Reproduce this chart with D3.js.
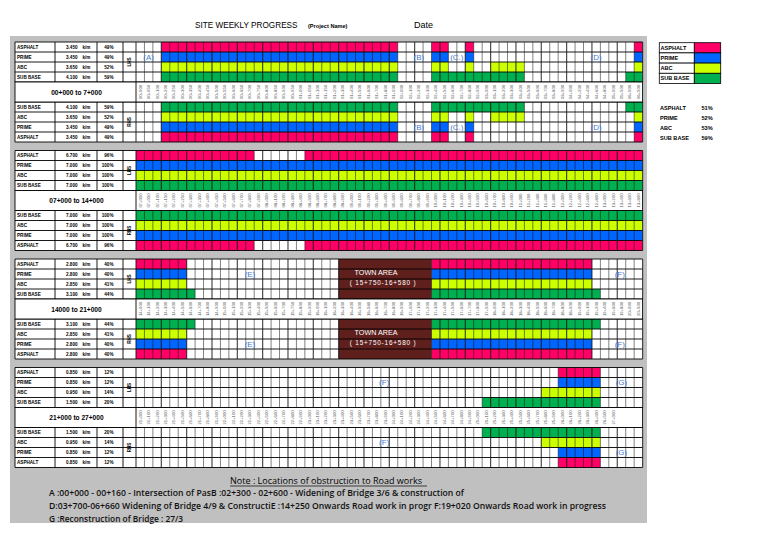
<!DOCTYPE html>
<html><head><meta charset="utf-8">
<script src="https://cdn.jsdelivr.net/npm/d3@7"></script>
<style>body{margin:0;background:#fff}svg{display:block}</style>
</head><body>
<script>
// ---------- DATA ----------
const layers = ["ASPHALT", "PRIME", "ABC", "SUB BASE"];
const layerColors = ["#ff0066", "#0066ff", "#ccff00", "#00b050"];
const sectionRanges = ["00+000 to 7+000", "07+000 to 14+000", "14000 to 21+000", "21+000 to 27+000"];
// length done (km) per section, order: ASPHALT, PRIME, ABC, SUB BASE
const kmDone = [
  ["3.450", "3.450", "3.650", "4.100"],
  ["6.700", "7.000", "7.000", "7.000"],
  ["2.800", "2.800", "2.850", "3.100"],
  ["0.850", "0.850", "0.950", "1.500"]
];
const pctDone = [
  ["49%", "49%", "52%", "59%"],
  ["96%", "100%", "100%", "100%"],
  ["40%", "40%", "41%", "44%"],
  ["12%", "12%", "14%", "20%"]
];
// completed column runs [from, to] per section and layer (same on LHS and RHS)
const doneRuns1 = [
  [[3, 30], [35, 36], [39, 39], [59, 59]],
  [[3, 30], [35, 36], [39, 39], [59, 59]],
  [[3, 30], [35, 36], [39, 39], [42, 45], [59, 59]],
  [[3, 30], [35, 45], [58, 59]]
];
const doneRuns2 = [
  [[0, 13], [20, 59]],
  [[0, 59]],
  [[0, 59]],
  [[0, 59]]
];
const doneRuns3 = [
  [[0, 5], [35, 53]],
  [[0, 5], [35, 53]],
  [[0, 5], [35, 53]],
  [[0, 6], [35, 54]]
];
const doneRuns4 = [
  [[50, 54]],
  [[50, 54]],
  [[48, 54]],
  [[41, 54]]
];
const townArea = {section: 2, from: 24, to: 34, line1: "TOWN AREA", line2: "( 15+750-16+580 )"};
// obstruction markers: section, side, layer, column position, text
const markers = [
  [0, "L", 1, 1.5, "(A)"], [0, "L", 1, 33.5, "(B)"], [0, "L", 1, 38, "(C.)"], [0, "L", 1, 54.5, "(D)"],
  [0, "R", 1, 33.5, "(B)"], [0, "R", 1, 38, "(C.)"], [0, "R", 1, 54.5, "(D)"],
  [2, "L", 1, 13.5, "(E)"], [2, "L", 1, 57.3, "(F)"], [2, "R", 1, 13.5, "(E)"], [2, "R", 1, 57.3, "(F)"],
  [3, "L", 1, 29.4, "(F)"], [3, "L", 1, 57.5, "(G)"], [3, "R", 2, 29.4, "(F)"], [3, "R", 1, 57.5, "(G)"]
];
// chainage tick labels (one per column)
const ticks1 = ["00+000","00+050","00+100","00+200","00+250","00+300","00+350","00+400","00+450","00+500","00+550","00+600","00+650","00+700","00+750","00+800","00+850","00+900","00+950","01+000","01+050","01+100","01+150","01+200","01+300","01+400","01+500","01+600","01+700","01+800","01+900","02+000","02+100","02+200","02+300","02+400","02+500","02+600","02+700","02+800","02+900","03+000","03+100","03+200","03+300","03+400","03+500","03+600","03+700","03+800","03+900","04+000","04+200","04+400","04+600","04+800","05+000","05+500","06+000","06+500"];
const ticks2 = ["07+000","07+050","07+100","07+150","07+200","07+250","07+300","07+350","07+400","07+450","07+500","07+600","07+700","07+800","07+900","08+000","08+100","08+200","08+300","08+400","08+500","08+600","08+700","08+800","08+900","09+000","09+100","09+200","09+300","09+400","09+500","09+600","09+700","09+800","09+900","10+000","10+100","10+200","10+300","10+400","10+500","10+600","10+700","10+800","10+900","11+000","11+200","11+400","11+600","11+800","12+000","12+200","12+400","12+600","12+800","13+000","13+200","13+400","13+600","13+800"];
const ticks3 = ["14+000","14+100","14+200","14+300","14+400","14+500","14+600","14+700","14+800","14+900","15+000","15+100","15+200","15+300","15+400","15+500","15+600","15+700","15+750","15+800","15+900","16+000","16+100","16+200","16+300","16+400","16+500","16+580","16+600","16+700","16+800","16+900","17+000","17+100","17+200","17+300","17+400","17+500","17+600","17+700","17+800","17+900","18+000","18+100","18+200","18+300","18+400","18+500","18+600","18+700","18+800","18+900","19+000","19+100","19+200","19+400","19+600","19+800","20+000","20+500"];
const ticks4 = ["21+000","21+100","21+200","21+300","21+400","21+500","21+600","21+700","21+800","21+900","22+000","22+100","22+200","22+300","22+400","22+500","22+600","22+700","22+800","22+900","23+000","23+100","23+200","23+300","23+400","23+500","23+600","23+700","23+800","23+900","24+000","24+100","24+200","24+300","24+400","24+500","24+600","24+700","24+800","24+900","25+000","25+100","25+200","25+300","25+400","25+500","25+600","25+700","25+800","25+900","26+000","26+100","26+200","26+300","26+400","26+500","27+000"];
const overallLabels = ["ASPHALT", "PRIME", "ABC", "SUB BASE"];
const overallPct = ["51%", "52%", "53%", "59%"];
const noteTitle = "Note : Locations of obstruction to Road works ";
const noteLines = [
  "A :00+000 - 00+160 - Intersection of PasB :02+300 - 02+600 - Widening of Bridge 3/6 & construction of",
  "D:03+700-06+660 Widening of Bridge 4/9 & ConstructiE :14+250 Onwards  Road work in progr F:19+020 Onwards  Road work in progress",
  "G :Reconstruction of Bridge : 27/3"
];

const doneRuns = [doneRuns1, doneRuns2, doneRuns3, doneRuns4];
const tickSets = [ticks1, ticks2, ticks3, ticks4];
const NCOL = 60;

// ---------- LAYOUT ----------
const svg = d3.select("body").append("svg").attr("width", 768).attr("height", 543)
  .style("font-family", "'Liberation Sans', Arial, sans-serif");

const x = d3.scaleLinear().domain([0, NCOL]).range([136, 642.6]);
const secTop = d3.scaleLinear().domain([0, 1]).range([42, 150.5]);
const ROW = 10, LAB = 20;
const colName = 15, colVal = 55, colPct = 97, colSide = 123;

svg.append("rect").attr("x", 10).attr("y", 36).attr("width", 637).attr("height", 487).attr("fill", "#c0c0c0");

// title
svg.append("text").attr("x", 195).attr("y", 28).attr("font-size", 8.2).text("SITE WEEKLY PROGRESS");
svg.append("text").attr("x", 308).attr("y", 28).attr("font-size", 5.6).attr("font-weight", "bold").text("(Project Name)");
svg.append("text").attr("x", 414).attr("y", 28).attr("font-size", 9).text("Date");

function rowTop(s, side, k) {
  const t = secTop(s);
  return side === "L" ? t + k * ROW : t + 4 * ROW + LAB + k * ROW;
}
function layerAt(side, k) { return side === "L" ? k : 3 - k; }
function rowOfLayer(side, li) { return side === "L" ? li : 3 - li; }

for (let s = 0; s < 4; s++) {
  const g = svg.append("g");
  const t = secTop(s);
  g.append("rect").attr("x", colName).attr("y", t).attr("width", x(NCOL) - colName).attr("height", 8 * ROW + LAB).attr("fill", "#fff");

  ["L", "R"].forEach(side => {
    for (let k = 0; k < 4; k++) {
      const li = layerAt(side, k);
      const y0 = rowTop(s, side, k);
      doneRuns[s][li].forEach(r => {
        g.append("rect").attr("x", x(r[0])).attr("y", y0).attr("width", x(r[1] + 1) - x(r[0])).attr("height", ROW)
          .attr("fill", layerColors[li]);
      });
      g.append("text").attr("x", colName + 2).attr("y", y0 + 6.8).attr("font-size", 4.6).attr("font-weight", "bold").text(layers[li]);
      g.append("text").attr("x", 77.5).attr("y", y0 + 6.8).attr("font-size", 4.6).attr("font-weight", "bold").attr("text-anchor", "end").text(kmDone[s][li]);
      g.append("text").attr("x", 82.5).attr("y", y0 + 6.8).attr("font-size", 4.6).attr("font-weight", "bold").text("k/m");
      g.append("text").attr("x", 113.5).attr("y", y0 + 6.8).attr("font-size", 4.6).attr("font-weight", "bold").attr("text-anchor", "end").text(pctDone[s][li]);
    }
    const yb = rowTop(s, side, 0);
    if (s === townArea.section) {
      g.append("rect").attr("x", x(townArea.from)).attr("y", yb).attr("width", x(townArea.to + 1) - x(townArea.from)).attr("height", 4 * ROW).attr("fill", "#5e1f1d");
    }
    for (let k = 0; k <= 4; k++) {
      g.append("line").attr("x1", colName).attr("x2", x(NCOL)).attr("y1", yb + k * ROW).attr("y2", yb + k * ROW)
        .attr("stroke", "#000").attr("stroke-width", 0.9);
    }
    for (let c = 0; c <= NCOL; c++) {
      if (s === townArea.section && c > townArea.from && c <= townArea.to) continue;
      g.append("line").attr("x1", x(c)).attr("x2", x(c)).attr("y1", yb).attr("y2", yb + 4 * ROW)
        .attr("stroke", "#111").attr("stroke-opacity", 0.75).attr("stroke-width", c % 3 === 0 ? 1.2 : 0.7);
    }
    [colName, colVal, colPct, colSide].forEach(cx => {
      g.append("line").attr("x1", cx).attr("x2", cx).attr("y1", yb).attr("y2", yb + 4 * ROW).attr("stroke", "#000").attr("stroke-width", 0.9);
    });
    g.append("text").attr("transform", `translate(${(colSide + 136) / 2 + 1.6},${yb + 2 * ROW}) rotate(-90)`)
      .attr("text-anchor", "middle").attr("font-size", 4.6).attr("font-weight", "bold").text(side === "L" ? "LHS" : "RHS");
    if (s === townArea.section) {
      const cx = (x(townArea.from) + x(townArea.to + 1)) / 2;
      g.append("text").attr("x", cx - 9).attr("y", yb + 16).attr("text-anchor", "middle").attr("fill", "#fff").attr("font-size", 7.2).text(townArea.line1);
      g.append("text").attr("x", cx - 2).attr("y", yb + 26).attr("text-anchor", "middle").attr("fill", "#fff").attr("font-size", 6.4)
        .attr("letter-spacing", 0.8).text(townArea.line2);
    }
  });
  const ly = t + 4 * ROW;
  g.append("rect").attr("x", colName).attr("y", ly).attr("width", x(NCOL) - colName).attr("height", LAB)
    .attr("fill", "#fff").attr("stroke", "#000").attr("stroke-width", 0.9);
  g.append("line").attr("x1", 136).attr("x2", 136).attr("y1", ly).attr("y2", ly + LAB).attr("stroke", "#000").attr("stroke-width", 0.9);
  g.append("text").attr("x", 76.5).attr("y", ly + LAB / 2 + 2.5).attr("text-anchor", "middle").attr("font-size", 6.6)
    .attr("font-weight", "bold").text(sectionRanges[s]);
  tickSets[s].forEach((lbl, c) => {
    g.append("text").attr("transform", `translate(${x(c + 0.5) + 1.5},${ly + LAB / 2}) rotate(-90)`)
      .attr("text-anchor", "middle").attr("font-size", 4.2).attr("fill", "#555").text(lbl);
  });
}

markers.forEach(m => {
  const [s, side, li, col, txt] = m;
  const y0 = rowTop(s, side, rowOfLayer(side, li));
  svg.append("text").attr("x", x(col)).attr("y", y0 + 7.8).attr("text-anchor", "middle").attr("font-size", 8)
    .attr("fill", "#4a7bd6").text(txt);
});

const leg = svg.append("g");
layers.forEach((name, i) => {
  const y0 = 42.7 + i * 10.2;
  leg.append("rect").attr("x", 659.3).attr("y", y0).attr("width", 35).attr("height", 10.2).attr("fill", "#fff").attr("stroke", "#000").attr("stroke-width", 0.8);
  leg.append("rect").attr("x", 694.3).attr("y", y0).attr("width", 26.4).attr("height", 10.2).attr("fill", layerColors[i]).attr("stroke", "#000").attr("stroke-width", 0.8);
  leg.append("text").attr("x", 660.5).attr("y", y0 + 7).attr("font-size", 5.6).attr("font-weight", "bold").text(name);
});
overallLabels.forEach((name, i) => {
  const y0 = 109.7 + i * 10;
  leg.append("text").attr("x", 660).attr("y", y0).attr("font-size", 5.6).attr("font-weight", "bold").text(name);
  leg.append("text").attr("x", 701.5).attr("y", y0).attr("font-size", 5.6).attr("font-weight", "bold").text(overallPct[i]);
});

const nf = "'Open Sans', 'Noto Sans', sans-serif";
svg.append("text").attr("x", 230).attr("y", 484).attr("font-family", nf).attr("font-size", 9.5)
  .attr("textLength", 192).attr("lengthAdjust", "spacingAndGlyphs").text(noteTitle.trim());
svg.append("line").attr("x1", 230).attr("x2", 427).attr("y1", 486).attr("y2", 486).attr("stroke", "#000").attr("stroke-width", 0.7);
const noteW = [415, 557, 134];
const noteY = [496, 509, 521.5];
noteLines.forEach((ln, i) => {
  svg.append("text").attr("x", 49).attr("y", noteY[i]).attr("font-family", nf).attr("font-size", 8.4).attr("font-weight", 600)
    .attr("textLength", noteW[i]).attr("lengthAdjust", "spacingAndGlyphs").attr("fill", "#111").text(ln);
});
</script>
</body></html>
